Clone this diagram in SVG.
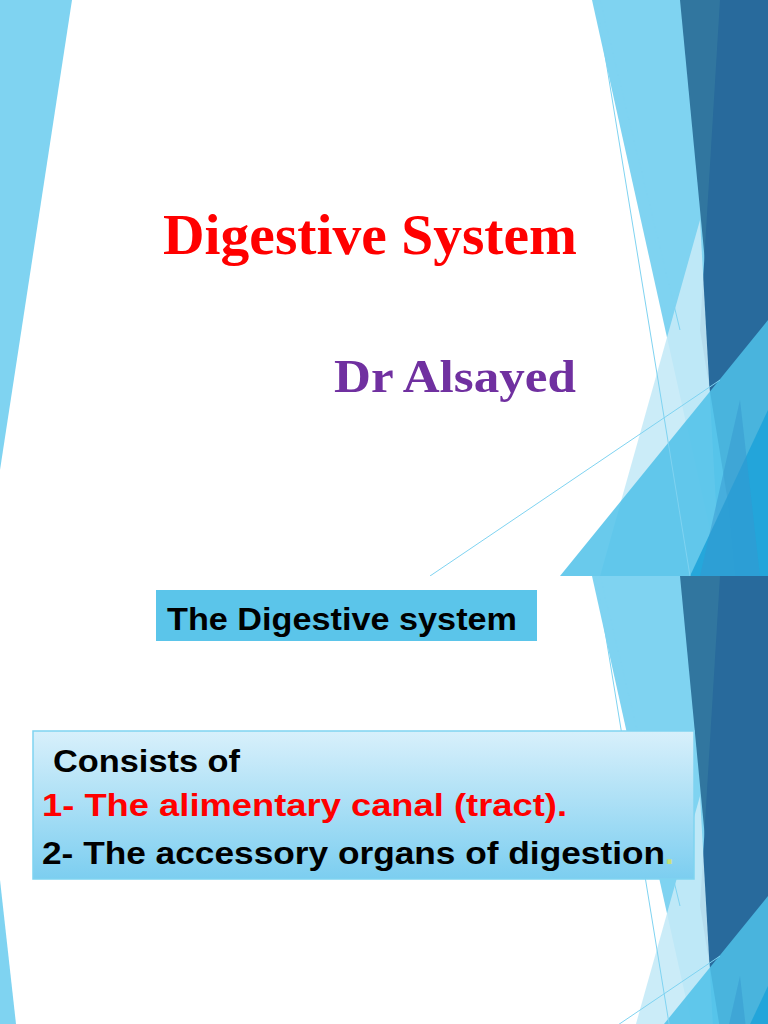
<svg xmlns="http://www.w3.org/2000/svg" xmlns:xlink="http://www.w3.org/1999/xlink" width="768" height="1024" viewBox="0 0 768 1024">
<defs>
<clipPath id="c1"><rect x="0" y="0" width="768" height="576"/></clipPath>
<clipPath id="c2"><rect x="0" y="0" width="768" height="448"/></clipPath>
<linearGradient id="g" x1="0" y1="0" x2="0" y2="1"><stop offset="0" stop-color="#d8f0fb"/><stop offset="1" stop-color="#7ccef0"/></linearGradient>
<g id="deco">
<rect width="768" height="576" fill="#fff"/>
<polygon points="592,0 768,0 768,576 720,576" fill="#7fd3f1"/>
<polygon points="680,0 768,0 768,576 735,576" fill="#31769f"/>
<polygon points="720,0 768,0 768,576 740,576 700,330" fill="#286a9c"/>
<polygon points="600,576 700,220 720,576" fill="#c5eaf7" opacity="0.9"/>
<polygon points="560,576 768,320 768,576" fill="#4fc1e9" opacity="0.85"/>
<polygon points="690,576 768,410 768,576" fill="#1fa3d9" opacity="0.9"/>
<polygon points="700,576 740,400 760,576" fill="#3598d0" opacity="0.5"/>
<line x1="430" y1="576" x2="720" y2="380" stroke="#7fd3f1" stroke-width="1"/>
<line x1="596" y1="0" x2="690" y2="576" stroke="#7fd3f1" stroke-width="1"/>
<line x1="600" y1="0" x2="680" y2="330" stroke="#7fd3f1" stroke-width="1"/>
</g>
<style>
.serif{font-family:"Liberation Serif","Times New Roman",serif;font-weight:bold}
.sans{font-family:"Liberation Sans",Arial,sans-serif;font-weight:bold}
</style>
</defs>
<g clip-path="url(#c1)"><use xlink:href="#deco"/></g>
<polygon points="0,0 72,0 0,470" fill="#7fd3f1"/>
<g transform="translate(0,576)"><g clip-path="url(#c2)"><use xlink:href="#deco"/></g></g>
<polygon points="0,880 16,1024 0,1024" fill="#7fd3f1"/>
<g id="title">
<text class="serif" x="163" y="254" font-size="56" fill="#ff0000" textLength="414" lengthAdjust="spacingAndGlyphs">Digestive System</text>
<text class="serif" x="334" y="392" font-size="46" fill="#7030a0" textLength="242" lengthAdjust="spacingAndGlyphs">Dr Alsayed</text>
</g>
<g id="heading">
<rect x="156" y="590" width="381" height="51" fill="#5bc5ea"/>
<text class="sans" x="167" y="630" font-size="31" fill="#000" textLength="350" lengthAdjust="spacingAndGlyphs">The Digestive system</text>
</g>
<g id="content">
<rect x="33" y="731" width="661" height="148" fill="url(#g)" stroke="#7fd3f1" stroke-width="1.5"/>
<text class="sans" x="53" y="772" font-size="32" fill="#000" textLength="187" lengthAdjust="spacingAndGlyphs">Consists of</text>
<text class="sans" x="42" y="816" font-size="32" fill="#ff0000" textLength="525" lengthAdjust="spacingAndGlyphs">1- The alimentary canal (tract).</text>
<text class="sans" x="42" y="864" font-size="32" fill="#000"><tspan textLength="623" lengthAdjust="spacingAndGlyphs">2- The accessory organs of digestion</tspan><tspan fill="#c4e07a">.</tspan></text>
</g>
</svg>
